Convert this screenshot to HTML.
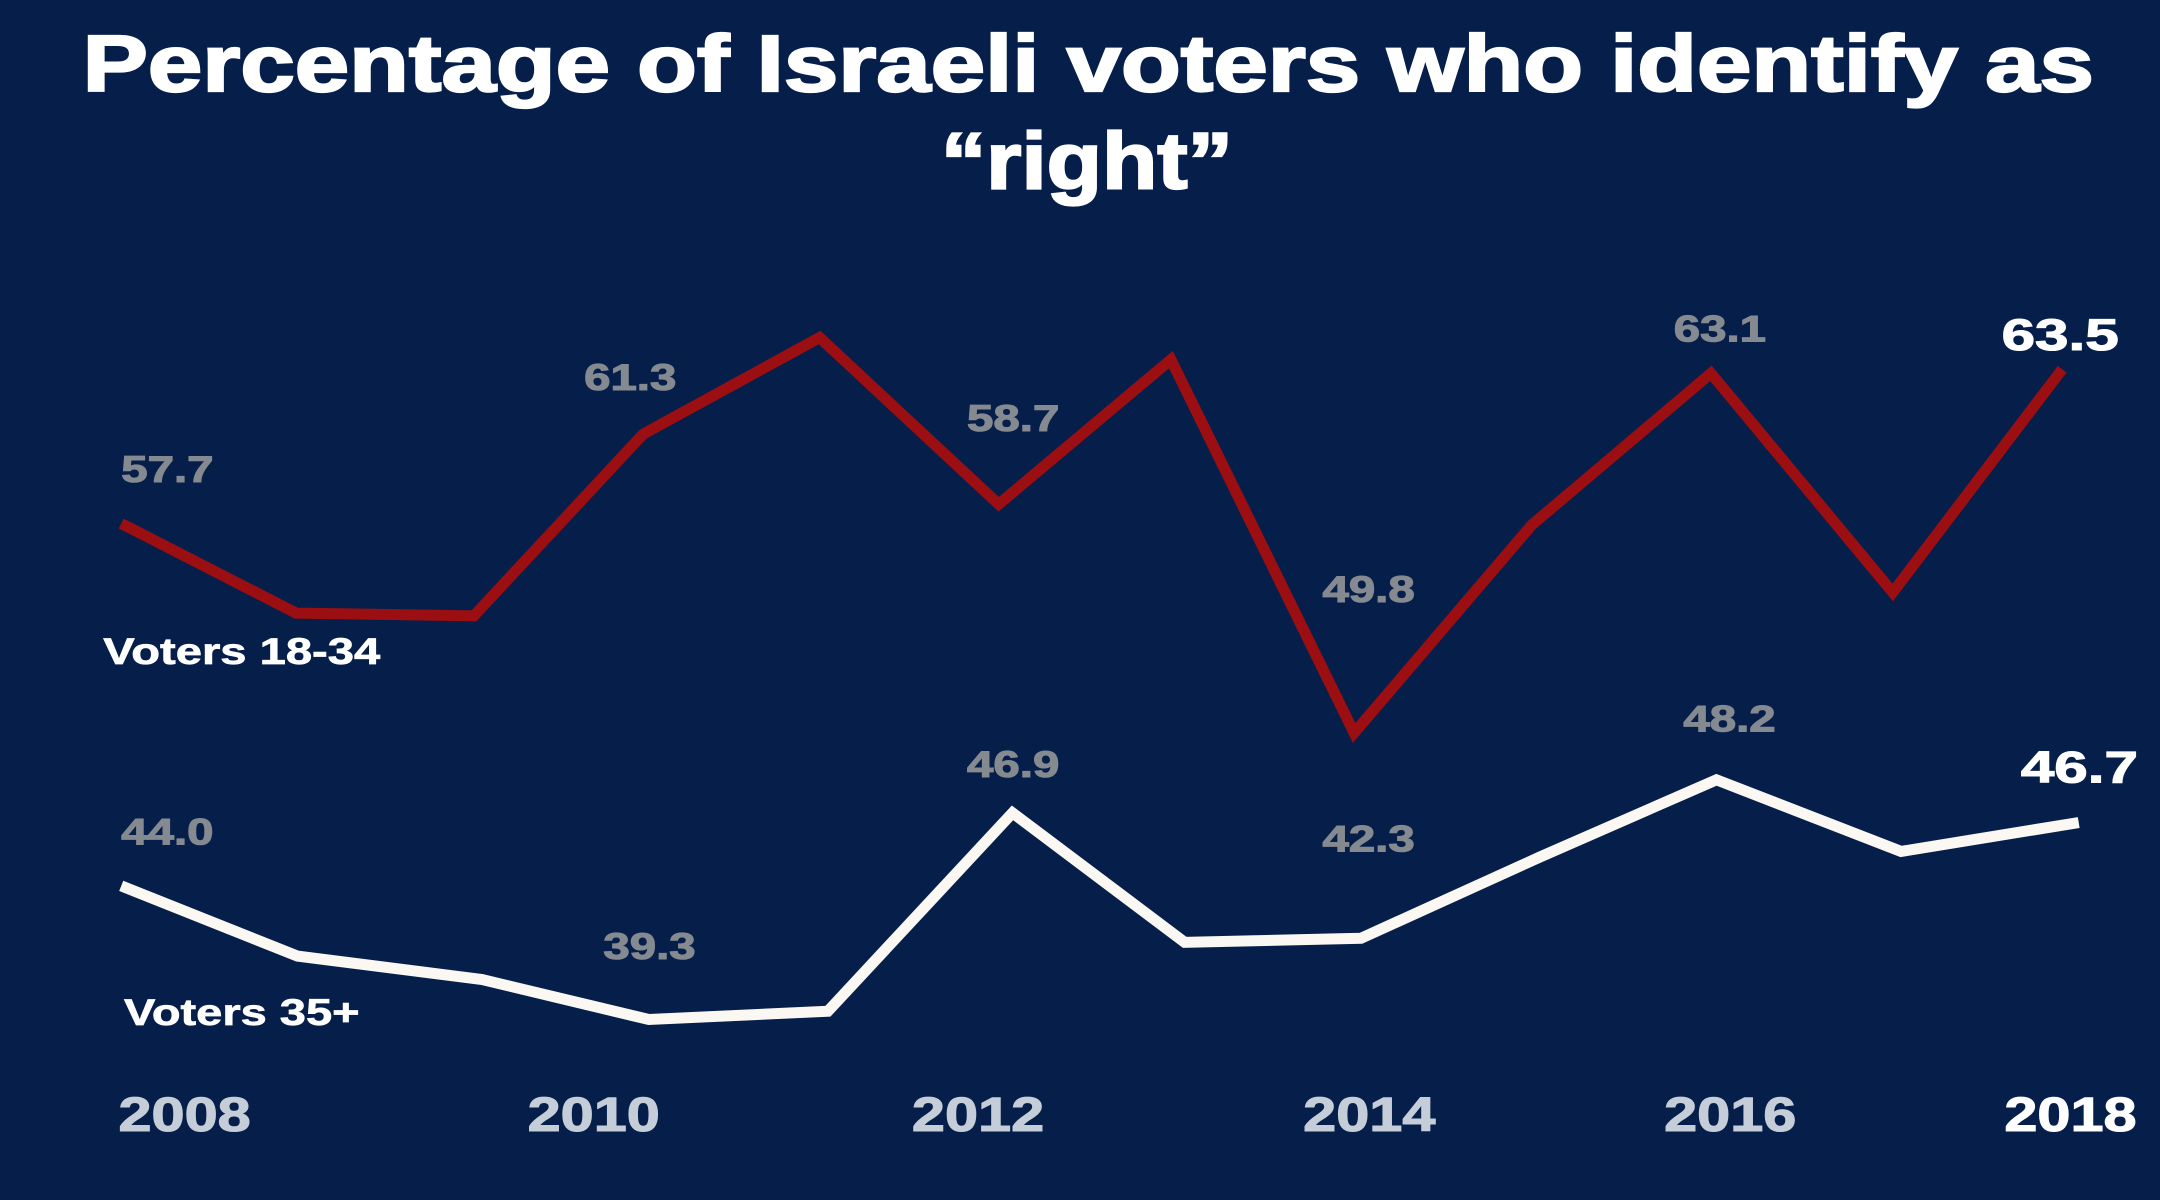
<!DOCTYPE html>
<html><head><style>html,body{margin:0;padding:0;background:#061e4a;}svg{display:block}</style></head>
<body>
<svg width="2160" height="1200" viewBox="0 0 1568 871" preserveAspectRatio="none" xmlns="http://www.w3.org/2000/svg" font-family="'Liberation Sans', 'DejaVu Sans', sans-serif" font-weight="bold">
<rect width="1568" height="871" fill="#061e4a"/>
<g fill="#fff" stroke="#fff" stroke-width="1.6" font-size="58">
<text x="60" y="66" textLength="1460" lengthAdjust="spacingAndGlyphs">Percentage of Israeli voters who identify as</text>
<text x="683" y="137" textLength="212" lengthAdjust="spacingAndGlyphs">“right”</text>
</g>
<polyline fill="none" stroke="#9b0f12" stroke-width="8" stroke-linejoin="miter" points="88,380 215,445 344,447 467,315 595,245 725,366 850,261 983,532 1112,381 1242,271 1374,430 1497,268"/>
<polyline fill="none" stroke="#fbf7f2" stroke-width="8" stroke-linejoin="miter" points="88,643 216,694 350,711 471,740 601,734 735,590 860,684 988,681 1118,622 1246,566 1380,618 1509,597"/>
<g fill="#858a91" font-size="27" stroke="#858a91" stroke-width="0.8" lengthAdjust="spacingAndGlyphs">
<text x="88" y="350" textLength="67" lengthAdjust="spacingAndGlyphs">57.7</text>
<text x="424" y="283" textLength="67" lengthAdjust="spacingAndGlyphs">61.3</text>
<text x="702" y="313" textLength="67" lengthAdjust="spacingAndGlyphs">58.7</text>
<text x="960" y="437" textLength="67" lengthAdjust="spacingAndGlyphs">49.8</text>
<text x="1215" y="248" textLength="67" lengthAdjust="spacingAndGlyphs">63.1</text>
<text x="88" y="613" textLength="67" lengthAdjust="spacingAndGlyphs">44.0</text>
<text x="438" y="696" textLength="67" lengthAdjust="spacingAndGlyphs">39.3</text>
<text x="702" y="564" textLength="67" lengthAdjust="spacingAndGlyphs">46.9</text>
<text x="960" y="618" textLength="67" lengthAdjust="spacingAndGlyphs">42.3</text>
<text x="1222" y="531" textLength="67" lengthAdjust="spacingAndGlyphs">48.2</text>
</g>
<g fill="#fff" font-size="32" stroke="#fff" stroke-width="0.8">
<text x="1453" y="254" textLength="85" lengthAdjust="spacingAndGlyphs">63.5</text>
<text x="1467" y="568" textLength="85" lengthAdjust="spacingAndGlyphs">46.7</text>
</g>
<g fill="#fff" font-size="27" stroke="#fff" stroke-width="0.5">
<text x="75" y="482" textLength="201" lengthAdjust="spacingAndGlyphs">Voters 18-34</text>
<text x="90" y="744" textLength="171" lengthAdjust="spacingAndGlyphs">Voters 35+</text>
</g>
<g fill="#c5cdd9" font-size="35" stroke="#c5cdd9" stroke-width="0.8">
<text x="86" y="821" textLength="96" lengthAdjust="spacingAndGlyphs">2008</text>
<text x="383" y="821" textLength="96" lengthAdjust="spacingAndGlyphs">2010</text>
<text x="662" y="821" textLength="96" lengthAdjust="spacingAndGlyphs">2012</text>
<text x="946" y="821" textLength="96" lengthAdjust="spacingAndGlyphs">2014</text>
<text x="1208" y="821" textLength="96" lengthAdjust="spacingAndGlyphs">2016</text>
<text x="1455" y="821" fill="#fff" stroke="#fff" textLength="96" lengthAdjust="spacingAndGlyphs">2018</text>
</g>
</svg>
</body></html>
